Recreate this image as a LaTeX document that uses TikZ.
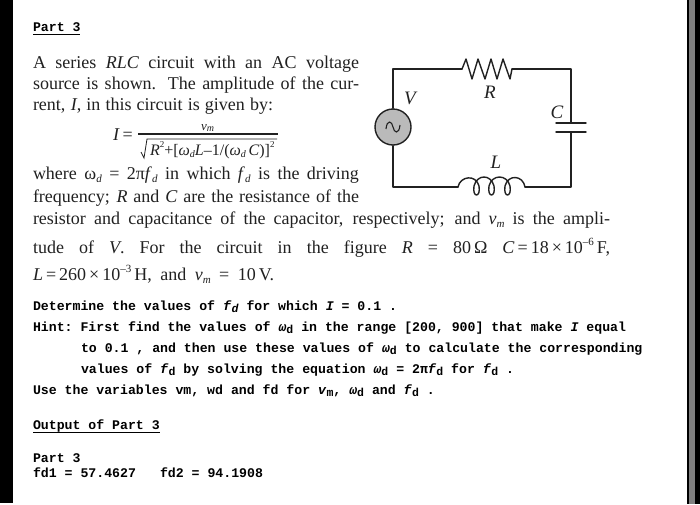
\documentclass[tikz,border=0pt]{standalone}
\usepackage{fontspec}
\setmainfont{Liberation Serif}
\setmonofont{Liberation Mono}
\definecolor{ink}{gray}{0.13}
\newcommand{\subdp}[1]{\raisebox{-0.4ex}{\fontsize{11}{11}\selectfont\textit{#1}}}
\newcommand{\supp}[1]{\raisebox{0.85ex}{\fontsize{11}{11}\selectfont #1}}
\newcommand{\msub}[1]{\raisebox{-0.3ex}{\fontsize{11.5}{11}\selectfont #1}}
\newcommand{\fsub}[1]{\raisebox{-0.3ex}{\fontsize{10}{10}\selectfont\itshape #1}}
\newcommand{\fsup}{\raisebox{1ex}{\fontsize{9}{9}\selectfont 2}}
\newcommand{\mono}[1]{\fontsize{13.2}{14}\selectfont\ttfamily\bfseries #1}
\tikzset{
  x=1pt,y=-1pt,
  serifline/.style={anchor=base west,inner sep=0pt,outer sep=0pt,text=ink,font=\fontsize{18}{20}\selectfont},
  monoline/.style={anchor=base west,inner sep=0pt,outer sep=0pt,text=black},
  wire/.style={draw=ink,line width=1.4pt,line cap=round,line join=round},
  complabel/.style={anchor=center,inner sep=0pt,text=ink,font=\fontsize{19}{20}\selectfont\itshape}
}
\begin{document}
\begin{tikzpicture}
\useasboundingbox (0,0) rectangle (700,504);
\fill[white] (0,0) rectangle (700,504);
\fill[black] (0,0) rectangle (13,503);
\fill[black] (687,0) rectangle (700,504);
\fill[black!50] (689,0) rectangle (695,504);

% headings
\node[monoline] (h1) at (33,31) {\mono{Part 3}};
\draw[black,line width=0.9pt] (33,34) -- (80,34);

% paragraph, upper block
\node[serifline] (p1) at (33,68) {\makebox[326pt][s]{A series \textit{RLC} circuit with an AC voltage}};
\node[serifline] (p2) at (33,89) {\makebox[326pt][s]{source is shown. The amplitude of the cur-}};
\node[serifline] (p3) at (33,110) {\makebox[240pt][s]{rent, \textit{I}, in this circuit is given by:}};

% formula
\node[serifline] (fi) at (113,140) {\textit{I}\,=};
\draw[ink,line width=1.1pt] (138,134) -- (278,134);
\node[serifline,font=\fontsize{13}{14}\selectfont\itshape] (fn) at (201,130) {v\raisebox{-0.3ex}{\fontsize{10}{10}\selectfont m}};
\draw[ink,line width=0.8pt] (141,152) -- (144,158) -- (147,139) -- (277,139);
\node[serifline,font=\fontsize{16}{16}\selectfont] (fd) at (150,155) {\textit{R}\fsup+[\textit{ω}\fsub{d}\textit{L}--1/(\textit{ω}\fsub{d}\,\textit{C})]\fsup};

\node[serifline] (p4) at (33,179.5) {\makebox[326pt][s]{where ω\subdp{d} = 2π\textit{f}\subdp{d} in which \textit{f}\subdp{d} is the driving}};
\node[serifline] (p5) at (33,202.5) {\makebox[326pt][s]{frequency; \textit{R} and \textit{C} are the resistance of the}};
\node[serifline] (p6) at (33,224) {\makebox[577pt][s]{resistor and capacitance of the capacitor, respectively; and \textit{v}\subdp{m} is the ampli-}};
\node[serifline] (p7) at (33,253) {\makebox[577pt][s]{tude of \textit{V}. For the circuit in the figure \textit{R} = 80\,Ω \textit{C}\,=\,18\,×\,10\supp{--6}\,F,}};
\node[serifline] (p8) at (33,280) {\makebox[241pt][s]{\textit{L}\,=\,260\,×\,10\supp{--3}\,H, and \textit{v}\subdp{m} = 10\,V.}};

% mono block
\node[monoline] (m1) at (33,310) {\mono{Determine the values of \textit{f}\msub{\textit{d}} for which \textit{I} = 0.1 .}};
\node[monoline] (m2) at (33,331) {\mono{Hint: First find the values of \textit{ω}\msub{d} in the range [200, 900] that make \textit{I} equal}};
\node[monoline] (m3) at (81,352) {\mono{to 0.1 , and then use these values of \textit{ω}\msub{d} to calculate the corresponding}};
\node[monoline] (m4) at (81,373) {\mono{values of \textit{f}\msub{d} by solving the equation \textit{ω}\msub{d} = 2π\textit{f}\msub{d} for \textit{f}\msub{d} .}};
\node[monoline] (m5) at (33,394) {\mono{Use the variables vm, wd and fd for \textit{v}\msub{m}, \textit{ω}\msub{d} and \textit{f}\msub{d} .}};

\node[monoline] (o1) at (33,429) {\mono{Output of Part 3}};
\draw[black,line width=0.9pt] (33,432.5) -- (160,432.5);
\node[monoline] (o2) at (33,462) {\mono{Part 3}};
\node[monoline] (o3) at (33,477) {\mono{fd1 = 57.4627}};
\node[monoline] (o4) at (160,477) {\mono{fd2 = 94.1908}};

% circuit
\node[circle,draw=ink,fill=black!27,line width=1.4pt,minimum size=36pt,inner sep=0pt] (src) at (393,127) {};
\draw[ink,line width=1.1pt] (386,129) .. controls (387,119) and (392,121) .. (393,127) .. controls (394,133) and (399,135) .. (400,125);
\coordinate (tl) at (393,69);
\coordinate (bl) at (393,187);
\coordinate (tr) at (571,69);
\coordinate (br) at (571,187);
\coordinate (rl) at (462,69);
\coordinate (rr) at (512,69);
\coordinate (ll) at (458,187);
\coordinate (lr) at (525,187);
\coordinate (ct) at (571,123);
\coordinate (cb) at (571,132);
\coordinate (ctl) at (556,123);
\coordinate (ctr) at (586,123);
\coordinate (cbl) at (556,132);
\coordinate (cbr) at (586,132);
\draw[wire] (src.north) -- (tl) -- (rl);
\draw[wire] (rl) -- (466,59) -- (472,79) -- (478,59) -- (485,79) -- (491,59) -- (497,79) -- (503,59) -- (510,79) -- (rr);
\draw[wire] (rr) -- (tr) -- (ct);
\draw[wire] (ctl) -- (ctr);
\draw[wire] (cbl) -- (cbr);
\draw[wire] (cb) -- (br) -- (lr);
\draw[wire] (src.south) -- (bl) -- (ll);
\draw[wire] (ll) .. controls (460,176) and (476,174) .. (479,186)
  .. controls (481,198) and (472,198) .. (474,186)
  .. controls (477,174) and (491,174) .. (494,186)
  .. controls (496,198) and (487,198) .. (489,186)
  .. controls (492,174) and (507,174) .. (510,186)
  .. controls (512,198) and (503,198) .. (505,186)
  .. controls (508,174) and (523,175) .. (lr);
\node[complabel] (lv) at (410,98) {V};
\node[complabel] (lr1) at (490,92) {R};
\node[complabel] (lc) at (557,112) {C};
\node[complabel] (ll1) at (496,162) {L};
\end{tikzpicture}
\end{document}
